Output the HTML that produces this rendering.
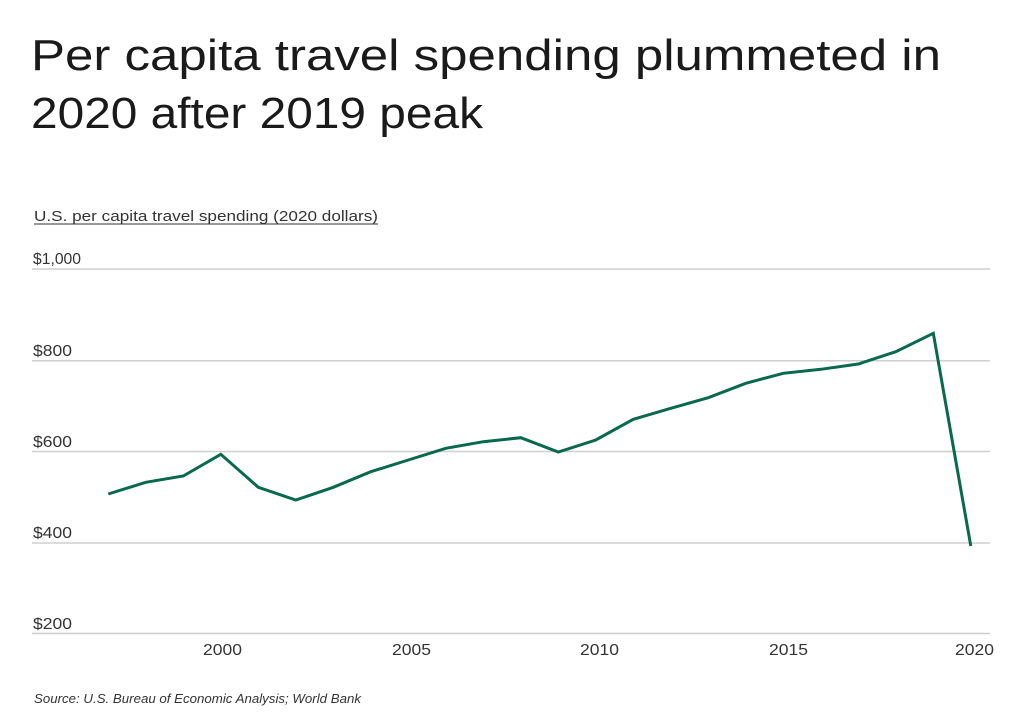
<!DOCTYPE html>
<html><head><meta charset="utf-8"><style>
html,body{margin:0;padding:0;background:#fff;}
svg{display:block;}
</style></head><body>
<svg width="1024" height="715" viewBox="0 0 1024 715" xmlns="http://www.w3.org/2000/svg" font-family="'Liberation Sans', sans-serif">
<rect width="1024" height="715" fill="#fff"/>
<text x="31" y="70" font-size="44" fill="#1a1a1a" textLength="910" lengthAdjust="spacingAndGlyphs">Per capita travel spending plummeted in</text>
<text x="31" y="128" font-size="44" fill="#1a1a1a" textLength="452" lengthAdjust="spacingAndGlyphs">2020 after 2019 peak</text>
<text x="34" y="221" font-size="15" fill="#333" textLength="344" lengthAdjust="spacingAndGlyphs">U.S. per capita travel spending (2020 dollars)</text>
<line x1="34" y1="224" x2="378" y2="224" stroke="#333" stroke-width="1"/>
<g stroke="#cfcfcf" stroke-width="1.5">
<line x1="32" y1="269" x2="990" y2="269"/>
<line x1="32" y1="360.7" x2="990" y2="360.7"/>
<line x1="32" y1="451.5" x2="990" y2="451.5"/>
<line x1="32" y1="543" x2="990" y2="543"/>
<line x1="32" y1="633.5" x2="990" y2="633.5"/>
</g>
<g font-size="16" fill="#333">
<text x="33" y="264" textLength="48" lengthAdjust="spacingAndGlyphs">$1,000</text>
<text x="33" y="356" textLength="39" lengthAdjust="spacingAndGlyphs">$800</text>
<text x="33" y="447" textLength="39" lengthAdjust="spacingAndGlyphs">$600</text>
<text x="33" y="538" textLength="39" lengthAdjust="spacingAndGlyphs">$400</text>
<text x="33" y="629" textLength="39" lengthAdjust="spacingAndGlyphs">$200</text>
</g>
<g font-size="16" fill="#333">
<text x="203" y="655" textLength="39" lengthAdjust="spacingAndGlyphs">2000</text>
<text x="392" y="655" textLength="39" lengthAdjust="spacingAndGlyphs">2005</text>
<text x="580" y="655" textLength="39" lengthAdjust="spacingAndGlyphs">2010</text>
<text x="769" y="655" textLength="39" lengthAdjust="spacingAndGlyphs">2015</text>
<text x="955" y="655" textLength="39" lengthAdjust="spacingAndGlyphs">2020</text>
</g>
<polyline fill="none" stroke="#08694d" stroke-width="3" stroke-linejoin="miter" points="108.3,494 145.8,482.3 183.3,476 220.8,454.3 258.3,487.3 295.8,500 333.3,487.3 370.8,471.7 408.3,460 445.8,448.3 483.3,441.7 520.8,437.7 558.3,452 595.8,440 633.3,419.3 670.8,408.3 708.3,397.7 745.8,383.3 783.3,373.3 820.8,369.3 858.3,364 895.8,351.7 933.3,333.3 970.8,546"/>
<text x="34" y="703" font-size="13" font-style="italic" fill="#333" textLength="327" lengthAdjust="spacingAndGlyphs">Source:  U.S. Bureau of Economic Analysis;  World Bank</text>
</svg>
</body></html>
